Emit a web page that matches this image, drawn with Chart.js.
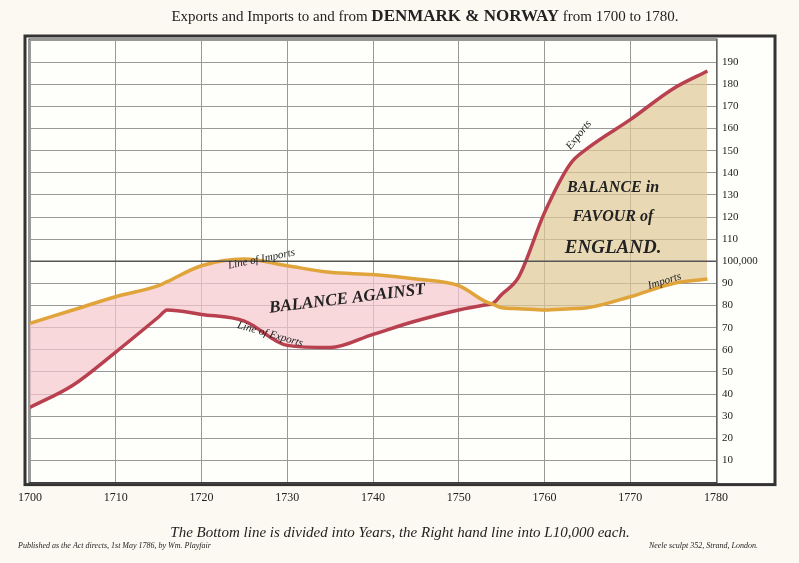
<!DOCTYPE html>
<html><head><meta charset="utf-8">
<script src="https://cdn.jsdelivr.net/npm/chart.js@4"></script>
<style>html,body{margin:0;background:#fbf9f1}#wrap{width:799px;height:563px;position:relative}</style>
</head><body><div id="wrap"><canvas id="c"></canvas></div>
<script>
const exportYears = [1700,1705,1710,1716,1720,1725,1730,1735,1740,1745,1750,1754,1757,1760,1763,1765,1770,1775,1779];
const exportValues = [34,44,59,78,76,73,62,61,67,73,78,81,93,122,144,151,164,178,186];
const importYears = [1700,1705,1710,1715,1720,1725,1730,1735,1740,1745,1750,1753,1755,1760,1765,1770,1775,1779];
const importValues = [72,78,84,89,98,101,98,95,94,92,89,82,79,78,79,84,90,92];
const yTicks = [10,20,30,40,50,60,70,80,90,100,110,120,130,140,150,160,170,180,190];
const xTicks = [1700,1710,1720,1730,1740,1750,1760,1770,1780];

// interpolate both series on the same years so the fill can compare point by point
function interp(xs, ys, x) {
    for (let i = 0; i < xs.length - 1; i++) {
        if (x >= xs[i] && x <= xs[i+1]) return ys[i] + (ys[i+1]-ys[i]) * (x-xs[i]) / (xs[i+1]-xs[i]);
    }
    return ys[ys.length-1];
}
const allYears = [...new Set([...exportYears, ...importYears])].sort((a,b)=>a-b);
const exp = allYears.map(x => ({x, y: interp(exportYears, exportValues, x)}));
const imp = allYears.map(x => ({x, y: interp(importYears, importValues, x)}));

const decor = {
    id: 'decor',
    beforeDraw(chart) {
        const {ctx, chartArea: a} = chart;
        ctx.save();
        ctx.fillStyle = '#fefefb';
        ctx.fillRect(a.left-5, a.top-5, a.right-a.left+64, a.bottom-a.top+8);
        ctx.restore();
    },
    afterDraw(chart) {
        const {ctx, chartArea: a, scales: {x, y}} = chart;
        ctx.save();
        ctx.strokeStyle = '#333'; ctx.lineWidth = 3;
        ctx.strokeRect(a.left-5, a.top-4, a.right-a.left+64, a.bottom-a.top+6);
        ctx.lineWidth = 1;
        ctx.strokeRect(a.left-1, a.top-1, a.right-a.left+2, a.bottom-a.top+1);
        ctx.strokeStyle = '#555'; ctx.lineWidth = 1.6;
        ctx.beginPath(); ctx.moveTo(a.left, y.getPixelForValue(100)); ctx.lineTo(a.right, y.getPixelForValue(100)); ctx.stroke();

        ctx.fillStyle = '#222'; ctx.textBaseline = 'middle'; ctx.textAlign = 'left';
        const parts = [['15px "Liberation Serif"', 'Exports and Imports to and from '],
                       ['bold 17px "Liberation Serif"', 'DENMARK & NORWAY'],
                       ['15px "Liberation Serif"', ' from 1700 to 1780.']];
        let w = 0;
        parts.forEach(p => { ctx.font = p[0]; w += ctx.measureText(p[1]).width; });
        let tx = 425 - w / 2;
        parts.forEach(p => { ctx.font = p[0]; ctx.fillText(p[1], tx, 17); tx += ctx.measureText(p[1]).width; });

        ctx.textAlign = 'center';
        ctx.font = 'italic 15px "Liberation Serif"';
        ctx.fillText('The Bottom line is divided into Years, the Right hand line into L10,000 each.', 400, 533);
        ctx.font = 'italic 8px "Liberation Serif"';
        ctx.textAlign = 'left';
        ctx.fillText('Published as the Act directs, 1st May 1786, by Wm. Playfair', 18, 546);
        ctx.textAlign = 'right';
        ctx.fillText('Neele sculpt 352, Strand, London.', 758, 546);
        ctx.textAlign = 'center';
        const label = (t, xv, yv, rot, font) => {
            ctx.save(); ctx.translate(x.getPixelForValue(xv), y.getPixelForValue(yv)); ctx.rotate(rot);
            ctx.font = font; ctx.fillText(t, 0, 0); ctx.restore();
        };
        label('BALANCE AGAINST', 1737, 83, -0.12, 'bold italic 17px "Liberation Serif"');
        label('BALANCE in', 1768, 133, 0, 'bold italic 16px "Liberation Serif"');
        label('FAVOUR of', 1768, 120, 0, 'bold italic 16px "Liberation Serif"');
        label('ENGLAND.', 1768, 106, 0, 'bold italic 19px "Liberation Serif"');
        label('Line of Imports', 1727, 101, -0.2, 'italic 11px "Liberation Serif"');
        label('Line of Exports', 1728, 67, 0.28, 'italic 11px "Liberation Serif"');
        label('Exports', 1764, 157, -0.9, 'italic 11px "Liberation Serif"');
        label('Imports', 1774, 91, -0.3, 'italic 11px "Liberation Serif"');
        ctx.restore();
    }
};

new Chart(document.getElementById('c'), {
    type: 'line',
    data: {
        datasets: [{
            label: 'Imports',
            data: imp,
            borderColor: '#e0a43a',
            borderWidth: 3.5,
            pointRadius: 0,
            cubicInterpolationMode: 'monotone',
            fill: false
        }, {
            label: 'Exports',
            data: exp,
            borderColor: '#b8404f',
            borderWidth: 3.5,
            pointRadius: 0,
            cubicInterpolationMode: 'monotone',
            fill: {target: 0, above: 'rgba(222,200,150,0.7)', below: 'rgba(245,200,205,0.7)'}
        }]
    },
    plugins: [decor],
    options: {
        responsive: true,
        maintainAspectRatio: false,
        animation: false,
        layout: {padding: {left: 30, top: 40, right: 24, bottom: 50}},
        plugins: {legend: {display: false}, tooltip: {enabled: false}},
        scales: {
            x: {
                type: 'linear', min: 1700, max: 1780,
                afterBuildTicks: s => { s.ticks = xTicks.map(v => ({value: v})); },
                grid: {color: '#999', lineWidth: 1, drawTicks: false},
                border: {display: false},
                ticks: {color: '#222', padding: 8, font: {family: 'Liberation Serif', size: 12}, callback: v => String(v)}
            },
            y: {
                position: 'right', min: 0, max: 200,
                afterBuildTicks: s => { s.ticks = [0, ...yTicks, 200].map(v => ({value: v})); },
                afterFit: s => { s.width = 59; },
                grid: {color: '#999', lineWidth: 1, drawTicks: false},
                border: {display: false},
                ticks: {
                    color: '#222', padding: 6,
                    font: {family: 'Liberation Serif', size: 11},
                    callback: v => v === 100 ? '100,000' : (yTicks.includes(v) ? v : '')
                }
            }
        }
    }
});
</script></body></html>
